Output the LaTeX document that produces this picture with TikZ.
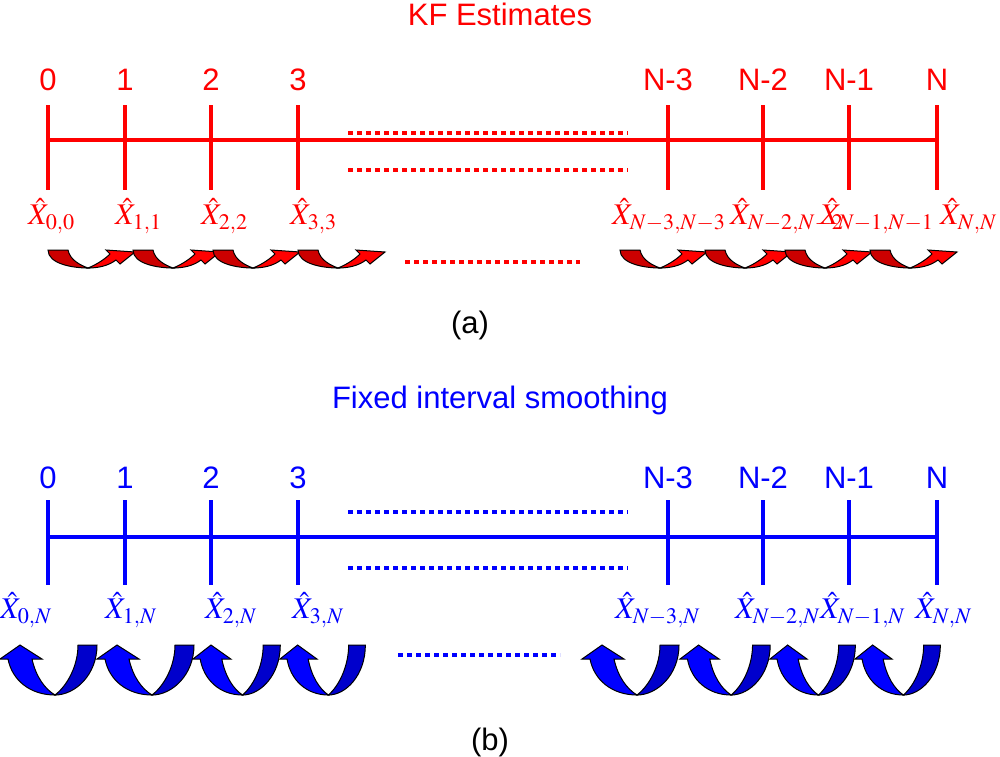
\documentclass[tikz,border=0pt]{standalone}
\usepackage{mathptmx}
\usepackage[no-math]{fontspec}
\setmainfont{Liberation Sans}
\begin{document}
\begin{tikzpicture}[x=1pt,y=-1pt,
 lab/.style={font=\fontsize{31}{36}\selectfont},
 mlab/.style={font=\fontsize{30}{34}\selectfont,inner sep=0pt},
 ax/.style={line width=4pt},
 dots/.style={line width=4pt,dash pattern=on 5pt off 4pt},
 redarr/.pic={
  \fill[draw=black,line width=1pt,fill=red!80!black] (0,0)--(20,0) .. controls (22,10) and (32,15) .. (40,18) .. controls (25,18) and (0,14) .. (0,0)--cycle;
  \fill[draw=black,line width=1pt,fill=red] (40,18) .. controls (50,14) and (58,8) .. (62,4) -- (58,0) -- (87,2) -- (72,14) -- (68,10) .. controls (60,16) and (50,18) .. (40,18) -- cycle;
 },
 bluearr/.pic={
  \fill[draw=black,line width=1pt,fill=blue!80!black] (78,0)--(97,0) .. controls (97,30) and (75,50) .. (55,50) .. controls (68,40) and (78,20) .. (78,0)--cycle;
  \fill[draw=black,line width=1pt,fill=blue] (55,50) .. controls (30,50) and (12,35) .. (8,14) -- (0,14) -- (20,0) -- (42,14) -- (32,14) .. controls (36,32) and (45,44) .. (55,50) -- cycle;
 }]
\useasboundingbox (0,0) rectangle (1000,756);
% ---------- (a)
\node[lab,text=red] (ta) at (500,14) {KF Estimates};
\coordinate (al) at (48,140); \coordinate (ar) at (937,140);
\draw[ax,red] (al) -- (ar);
\foreach \x/\t/\s/\o [count=\i] in {48/0/{0,0}/-20,125/1/{1,1}/-10,211/2/{2,2}/-10,298/3/{3,3}/-8,668/N-3/{N-3,N-3}/-56,763/N-2/{N-2,N-2}/-33,849/N-1/{N-1,N-1}/-29,937/N/{N,N}/3}{
  \draw[ax,red] (\x,105) -- (\x,190);
  \node[lab,text=red] (an\i) at (\x,80) {\t};
  \node[mlab,text=red,anchor=west] (ax\i) at (\x+\o,216) {$\hat{X}_{\s}$};
}
\draw[dots,red] (348,133) -- (628,133);
\draw[dots,red] (348,170) -- (628,170);
\draw[dots,red] (405,262) -- (580,262);
\foreach \x in {48,133,213,298,620,705,785,870}{ \pic at (\x,250) {redarr}; }
\node[lab] (la) at (470,325) {(a)};
% ---------- (b)
\node[lab,text=blue] (tb) at (500,400) {Fixed interval smoothing};
\coordinate (bl) at (48,537); \coordinate (br) at (937,537);
\draw[ax,blue] (bl) -- (br);
\foreach \x/\t/\s/\o [count=\i] in {48/0/{0,N}/-48,125/1/{1,N}/-20,211/2/{2,N}/-6,298/3/{3,N}/-6,668/N-3/{N-3,N}/-53,763/N-2/{N-2,N}/-28,849/N-1/{N-1,N}/-29,937/N/{N,N}/-22}{
  \draw[ax,blue] (\x,500) -- (\x,585);
  \node[lab,text=blue] (bn\i) at (\x,478) {\t};
  \node[mlab,text=blue,anchor=west] (bx\i) at (\x+\o,610) {$\hat{X}_{\s}$};
}
\draw[dots,blue] (348,512) -- (628,512);
\draw[dots,blue] (348,568) -- (628,568);
\draw[dots,blue] (398,655) -- (560,655);
\foreach \x/\s in {0/1,97/1,193/0.9,280/0.88,582/1,680/0.93,770/0.88,855/0.88}{ \pic[xscale=\s] at (\x,645) {bluearr}; }
\node[lab] (lb) at (490,742) {(b)};
\end{tikzpicture}
\end{document}
